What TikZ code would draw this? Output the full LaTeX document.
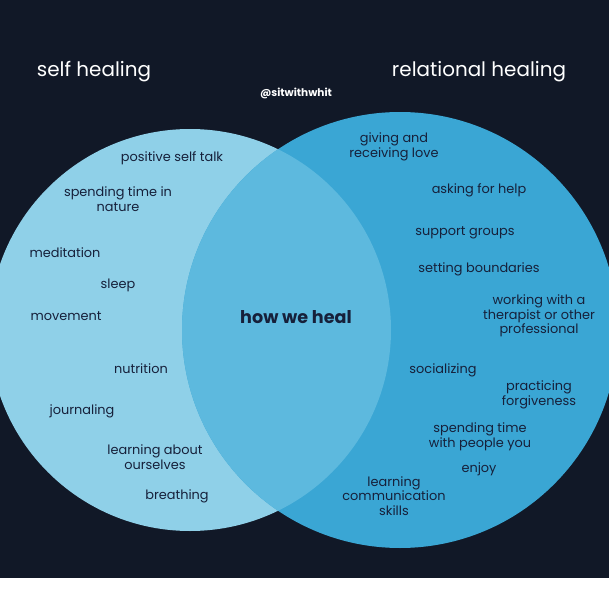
\documentclass[tikz,border=0pt]{standalone}
\usepackage{fontspec}
\setmainfont{Poppins}
\usetikzlibrary{positioning}
\definecolor{navy}{HTML}{111827}
\definecolor{ink}{HTML}{16203A}
\definecolor{selfblue}{HTML}{8FD0E8}
\definecolor{relblue}{HTML}{3AA6D4}
\definecolor{midblue}{HTML}{5DB9DE}
\begin{document}
\begin{tikzpicture}[x=0.03cm, y=-0.03cm, font=\fontsize{11}{12.5}\selectfont]
		\tikzstyle{item}=[text=ink, align=center, inner sep=1pt]
		\tikzstyle{title}=[text=white, font=\fontsize{17}{20}\selectfont]
		
		\useasboundingbox (0,0) rectangle (609,589);
		\fill[white] (0,0) rectangle (609,589);
		\fill[navy] (0,0) rectangle (609,578);
		\begin{scope}
			\clip (0,0) rectangle (609,578);
			\fill[selfblue] (190,330) circle (201);
			\fill[relblue] (400,330) circle (218);
			\clip (190,330) circle (201);
			\fill[midblue] (400,330) circle (218);
		\end{scope}
		
		\node[title] (self) at (94,72) {self healing};
		\node[title] (rel) at (479,72) {relational healing};
		\node[text=white, font=\fontsize{9}{10}\selectfont\bfseries] (tag) at (296,93) {@sitwithwhit};
		\node[text=ink, font=\fontsize{15}{17}\selectfont\bfseries] (heal) at (296,317) {how we heal};
		
		% self healing
		\node[item] (talk) at (172,158) {positive self talk};
		\node[item] (nature) at (118,199) {spending time in\\nature};
		\node[item] (medit) at (65,253) {meditation};
		\node[item] (sleep) at (118,285) {sleep};
		\node[item] (move) at (66,316) {movement};
		\node[item] (nutri) at (141,369) {nutrition};
		\node[item] (journ) at (82,411) {journaling};
		\node[item] (learn) at (155,457) {learning about\\ourselves};
		\node[item] (breath) at (177,496) {breathing};
		
		% relational healing
		\node[item] (love) at (394,147) {giving and\\receiving love};
		\node[item] (help) at (479,190) {asking for help};
		\node[item] (groups) at (465,233) {support groups};
		\node[item] (bound) at (479,269) {setting boundaries};
		\node[item] (thera) at (539,316) {working with a\\therapist or other\\professional};
		\node[item] (social) at (443,370) {socializing};
		\node[item] (forgive) at (539,395) {practicing\\forgiveness};
		\node[item] (people) at (480,437) {spending time\\with people you};
		\node[item] (enjoy) at (479,469) {enjoy};
		\node[item] (comm) at (394,496) {learning\\communication\\skills};
\end{tikzpicture}
\end{document}
